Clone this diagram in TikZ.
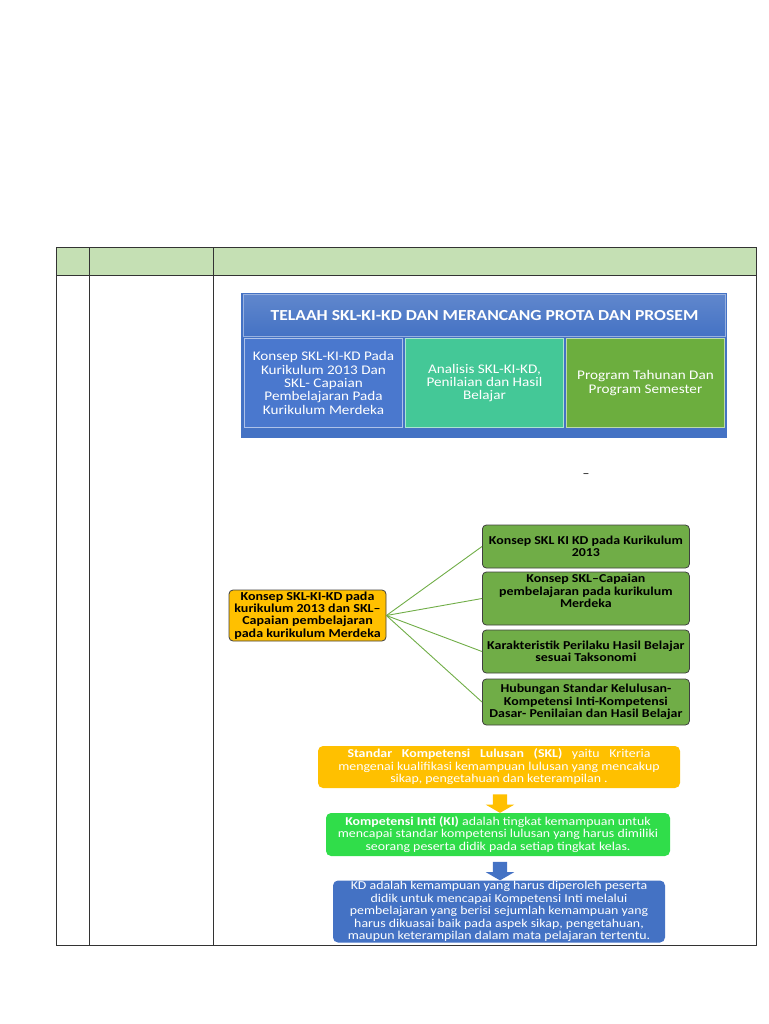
\documentclass[tikz,border=0pt]{standalone}
\usepackage{fontspec}
\setmainfont{Carlito}[FakeStretch=1.15]
\usetikzlibrary{positioning,shapes.arrows}
\definecolor{hdrgreen}{HTML}{C5E0B4}
\definecolor{bandblue}{HTML}{4472C4}
\definecolor{topblue}{HTML}{4A78CE}
\definecolor{topteal}{HTML}{44C897}
\definecolor{topgreen}{HTML}{6CAE3E}
\definecolor{ygold}{HTML}{FFC000}
\definecolor{lgreen}{HTML}{70AD47}
\definecolor{kigreen}{HTML}{30DD4A}
\tikzset{
  part/.style={rectangle,draw=white!55!#1,line width=1pt,fill=#1,minimum width=158,minimum height=89,anchor=north west,align=center,text=white,inner sep=0,font=\fontsize{13.2}{13.3}\selectfont},
  leaf/.style={rectangle,rounded corners=4,draw=black!75,line width=0.8pt,fill=lgreen,minimum width=207,align=center,inner sep=0,font=\bfseries\fontsize{12.1}{12.4}\selectfont,anchor=west},
  flowbox/.style={rectangle,rounded corners=5,fill=#1,text=white,align=center,inner sep=0,font=\fontsize{12.05}{12.5}\selectfont},
  downarrow/.style={single arrow,shape border rotate=270,fill=#1,minimum height=17,inner sep=7,single arrow head extend=7,single arrow tip angle=120}
}
\begin{document}
\begin{tikzpicture}[x=1pt,y=-1pt]
\useasboundingbox (0,0) rectangle (768,1024);
% table
\fill[hdrgreen] (56,247) rectangle (756,275);
\draw[black!80,line width=0.8pt] (56,247) rectangle (756,945);
\draw[black!80,line width=0.8pt] (56,275) -- (756,275);
\draw[black!80,line width=0.8pt] (89,247) -- (89,945);
\draw[black!80,line width=0.8pt] (213,247) -- (213,945);
% top overview
\node[rectangle,fill=bandblue,minimum width=486,minimum height=145,anchor=north west,inner sep=0](frame) at (241,293){};
\node[rectangle,draw=white!45!bandblue,line width=1pt,top color=bandblue!85!white,bottom color=bandblue,minimum width=482,minimum height=42,anchor=north west,inner sep=0,text=white,font=\bfseries\fontsize{15.3}{16}\selectfont](title) at (243,294){TELAAH SKL-KI-KD DAN MERANCANG PROTA DAN PROSEM};
\node[part=topblue](p1) at (244,338){Konsep SKL-KI-KD Pada\\Kurikulum 2013 Dan\\SKL- Capaian\\Pembelajaran Pada\\Kurikulum Merdeka};
\node[part=topteal,right=2 of p1](p2){Analisis SKL-KI-KD,\\Penilaian dan Hasil\\Belajar};
\node[part=topgreen,right=2 of p2](p3){Program Tahunan Dan\\Program Semester};
\node[font=\fontsize{12}{13}\selectfont](dash) at (586,476){--};
% concept map
\node[rectangle,rounded corners=4,draw=black!75,line width=0.8pt,fill=ygold,minimum width=157,minimum height=51,align=center,inner sep=0,font=\bfseries\fontsize{12.2}{12.3}\selectfont](root) at (307.5,615.5){Konsep SKL-KI-KD pada\\kurikulum 2013 dan SKL--\\Capaian pembelajaran\\pada kurikulum Merdeka};
\node[leaf,minimum height=43](k1) at (482,546.5){Konsep SKL KI KD pada Kurikulum\\2013};
\node[leaf,minimum height=53](k2) at (482,598.5){Konsep SKL--Capaian\\pembelajaran pada kurikulum\\Merdeka\\[3pt]\mbox{}};
\node[leaf,minimum height=43](k3) at (482,651.5){Karakteristik Perilaku Hasil Belajar\\sesuai Taksonomi};
\node[leaf,minimum height=46](k4) at (482,702){Hubungan Standar Kelulusan-\\Kompetensi Inti-Kompetensi\\Dasar- Penilaian dan Hasil Belajar};
\foreach \k in {k1,k2,k3,k4}
  \draw[lgreen,line width=0.9pt] (root.east) -- (\k.west);
% flow
\node[flowbox=ygold,minimum width=362,minimum height=42](skl) at (499,767){\makebox[303pt][s]{\textbf{Standar Kompetensi Lulusan (SKL)} yaitu Kriteria}\\mengenai kualifikasi kemampuan lulusan yang mencakup\\sikap, pengetahuan dan keterampilan .};
\node[downarrow=ygold](a1) at (500,801.5){};
\node[flowbox=kigreen,minimum width=344,minimum height=43](ki) at (498,834.5){\textbf{Kompetensi Inti (KI)} adalah tingkat kemampuan untuk\\mencapai standar kompetensi lulusan yang harus dimiliki\\seorang peserta didik pada setiap tingkat kelas.};
\node[downarrow=bandblue](a2) at (500,869){};
\node[flowbox=bandblue,minimum width=332,minimum height=62](kd) at (499,911.5){KD adalah kemampuan yang harus diperoleh peserta\\didik untuk mencapai Kompetensi Inti melalui\\pembelajaran yang berisi sejumlah kemampuan yang\\harus dikuasai baik pada aspek sikap, pengetahuan,\\maupun keterampilan dalam mata pelajaran tertentu.};
\end{tikzpicture}
\end{document}
